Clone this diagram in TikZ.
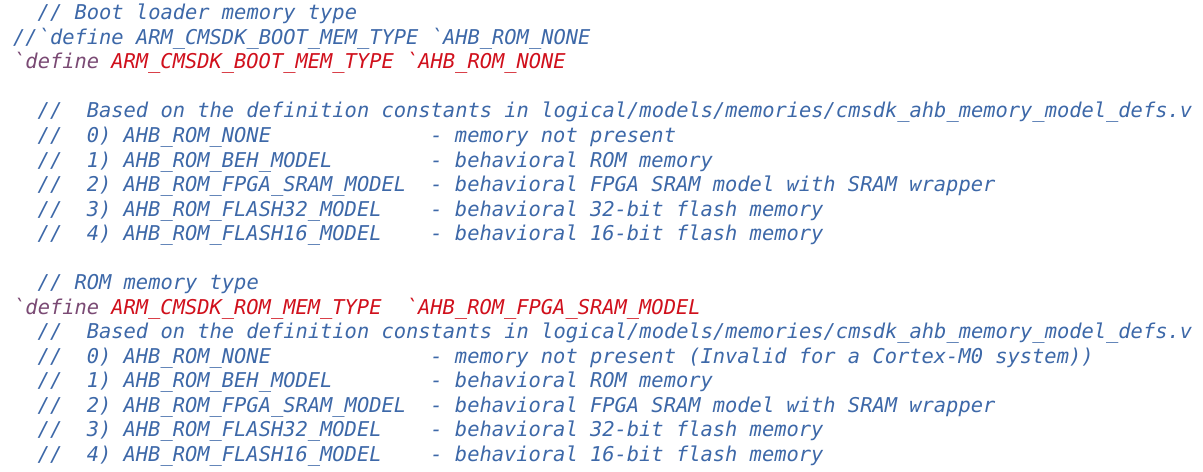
\documentclass[tikz,border=0pt]{standalone}
\usepackage{fontspec}
\usepackage{tikz}
\newfontfamily\codefont{DejaVu Sans Mono}
\definecolor{cmtblue}{HTML}{3D68A8}
\definecolor{defpurple}{HTML}{7A4A74}
\definecolor{macred}{HTML}{D0101C}
\tikzset{
    code/.style={anchor=base west, inner sep=0pt, font=\codefont\itshape\fontsize{20.4pt}{24pt}\selectfont},
    cmt/.style={code, text=cmtblue},
    kw/.style={code, text=defpurple},
    mac/.style={code, text=macred}
}
\begin{document}
\begin{tikzpicture}[x=12.27pt, y=-24.5pt]
    \useasboundingbox (-1.06,-0.816) rectangle (96.98,18.408);
    % boot loader
    \node[cmt] (b0) at (2,0) {// Boot loader memory type};
    \node[cmt] (b1) at (0,1) {//`define ARM\_CMSDK\_BOOT\_MEM\_TYPE `AHB\_ROM\_NONE};
    \node[kw] (b2) at (0,2) {`define};
    \node[mac] (b2m) at (8,2) {ARM\_CMSDK\_BOOT\_MEM\_TYPE `AHB\_ROM\_NONE};
    % rom
    \node[cmt] (r0) at (2,11) {// ROM memory type};
    \node[kw] (r1) at (0,12) {`define};
    \node[mac] (r1m) at (8,12) {ARM\_CMSDK\_ROM\_MEM\_TYPE};
    \node[mac] (r1v) at (32,12) {`AHB\_ROM\_FPGA\_SRAM\_MODEL};
    % option lists
    \foreach \s in {4,13} {
        \node[cmt] (h\s) at (2,\s) {//};
        \node[cmt] (t\s) at (6,\s) {Based on the definition constants in logical/models/memories/cmsdk\_ahb\_memory\_model\_defs.v};
        \foreach \i/\n in {1/0) AHB\_ROM\_NONE, 2/1) AHB\_ROM\_BEH\_MODEL, 3/2) AHB\_ROM\_FPGA\_SRAM\_MODEL, 4/3) AHB\_ROM\_FLASH32\_MODEL, 5/4) AHB\_ROM\_FLASH16\_MODEL} {
            \node[cmt] (s\s\i) at (2,\s+\i) {//};
            \node[cmt] (n\s\i) at (6,\s+\i) {\n};
        }
        \foreach \i/\d in {2/behavioral ROM memory, 3/behavioral FPGA SRAM model with SRAM wrapper, 4/behavioral 32-bit flash memory, 5/behavioral 16-bit flash memory}
            \node[cmt] (d\s\i) at (34,\s+\i) {- \d};
    }
    \node[cmt] (d41) at (34,5) {- memory not present};
    \node[cmt] (d131) at (34,14) {- memory not present (Invalid for a Cortex-M0 system))};
\end{tikzpicture}
\end{document}
